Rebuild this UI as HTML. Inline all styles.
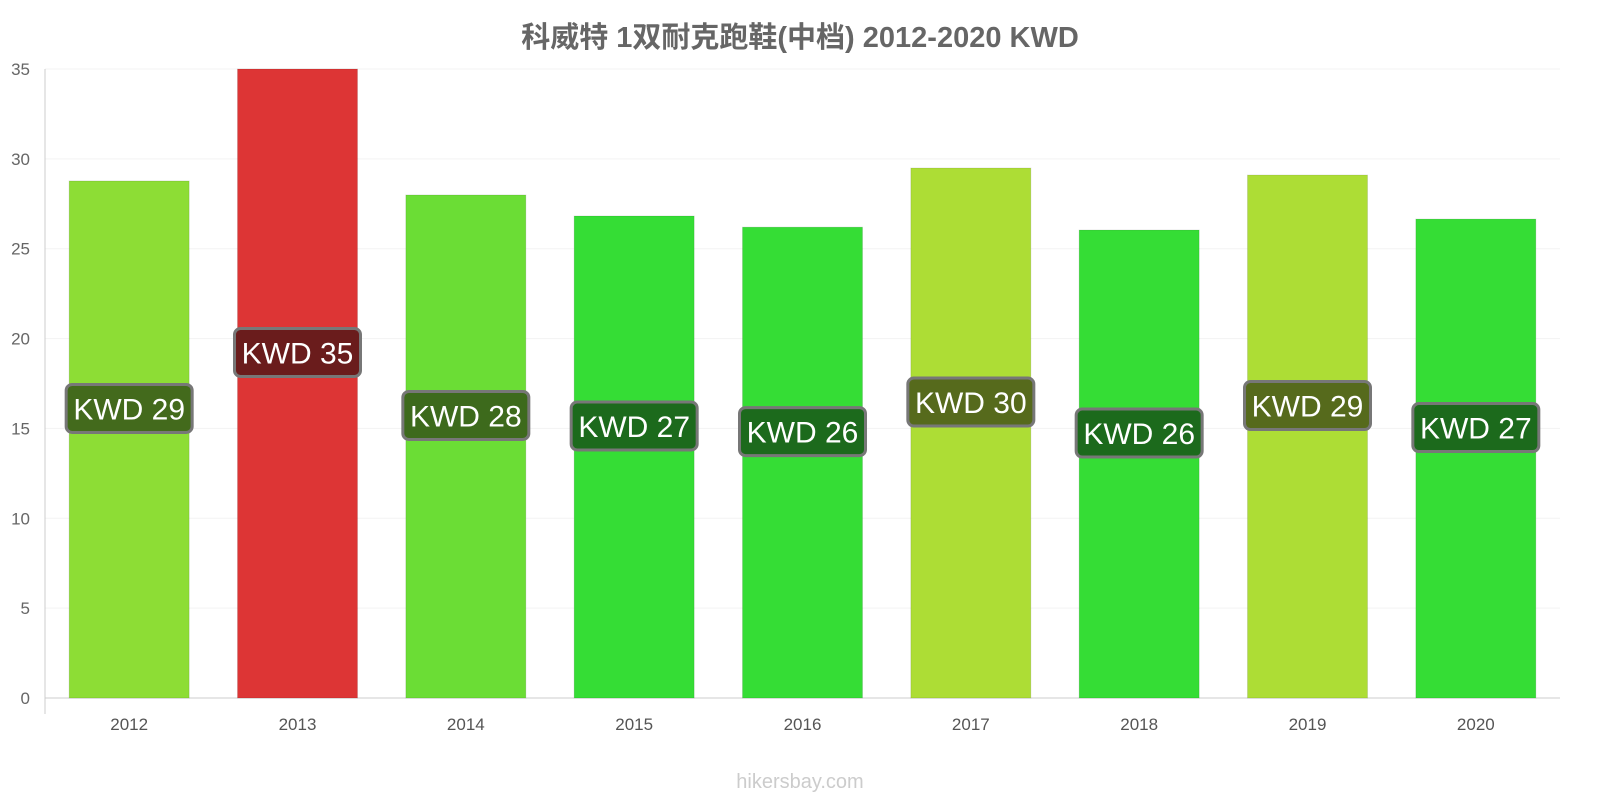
<!DOCTYPE html>
<html><head><meta charset="utf-8">
<style>
body{margin:0;background:#fff;font-family:"Liberation Sans","Noto Sans CJK SC",sans-serif}
svg{display:block}
</style></head>
<body>
<svg id="chart" width="1600" height="800" xmlns="http://www.w3.org/2000/svg">
<text x="800" y="47" text-anchor="middle" font-size="29" font-weight="bold" fill="#666">科威特 1双耐克跑鞋(中档) 2012-2020 KWD</text>
<g id="grid"></g><g id="bars"></g><g id="labels"></g>
<text x="800" y="788" text-anchor="middle" font-size="20" fill="#ccc">hikersbay.com</text>
</svg>
<script>
const categories=["2012","2013","2014","2015","2016","2017","2018","2019","2020"];
const values=[28.77,35,27.99,26.82,26.2,29.49,26.04,29.1,26.65];
const valueLabels=["KWD 29","KWD 35","KWD 28","KWD 27","KWD 26","KWD 30","KWD 26","KWD 29","KWD 27"];
const colors=["#8ddd35","#dd3535","#6bdd35","#35dd35","#35dd35","#addd35","#35dd35","#addd35","#35dd35"];
const labelBg=["#436a1c","#6a1c1c","#3d6a1c","#1c6a1c","#1c6a1c","#566a1c","#1c6a1c","#566a1c","#1c6a1c"];
const yTicks=[0,5,10,15,20,25,30,35];
const NS="http://www.w3.org/2000/svg";
const x0=45,x1=1560,yb=698,yt=69,ymax=35;
const y=v=>yb-(v/ymax)*(yb-yt);
const step=(x1-x0)/categories.length;
const xc=i=>x0+step*(i+0.5);
function mk(t,a,p){const e=document.createElementNS(NS,t);for(const k in a)e.setAttribute(k,a[k]);p.appendChild(e);return e;}
const g=document.getElementById('grid'),b=document.getElementById('bars'),l=document.getElementById('labels');
yTicks.forEach(t=>{
 const ln=mk('line',{x1:x0,x2:x1,y1:y(t),y2:y(t),stroke:t===0?'#ccc':'#f3f3f3'},g);
 
 
 const tx=mk('text',{x:30,y:y(t)+6,'text-anchor':'end','font-size':17,fill:'#666'},g);tx.textContent=t;
 
 
});
const ax=mk('line',{x1:x0,x2:x0,y1:yt,y2:714,stroke:'#ccc'},g);


categories.forEach((c,i)=>{
 const r=mk('rect',{x:xc(i)-60,y:y(values[i]),width:120,height:yb-y(values[i]),fill:colors[i],stroke:'rgba(0,0,0,0.1)'},b);
 
 
 const tx=mk('text',{x:xc(i),y:730,'text-anchor':'middle','font-size':17,fill:'#555'},b);tx.textContent=c;
 
 
 const cy=(y(values[i])+yb)/2-31;
 const bx=mk('rect',{x:xc(i)-63,y:cy-24,width:126,height:48,rx:6,fill:labelBg[i],stroke:'#777','stroke-width':3},l);
 
 
 const lt=mk('text',{x:xc(i),y:cy+11,'text-anchor':'middle','font-size':30,fill:'#fff'},l);lt.textContent=valueLabels[i];
 
 
});
</script>
</body></html>
